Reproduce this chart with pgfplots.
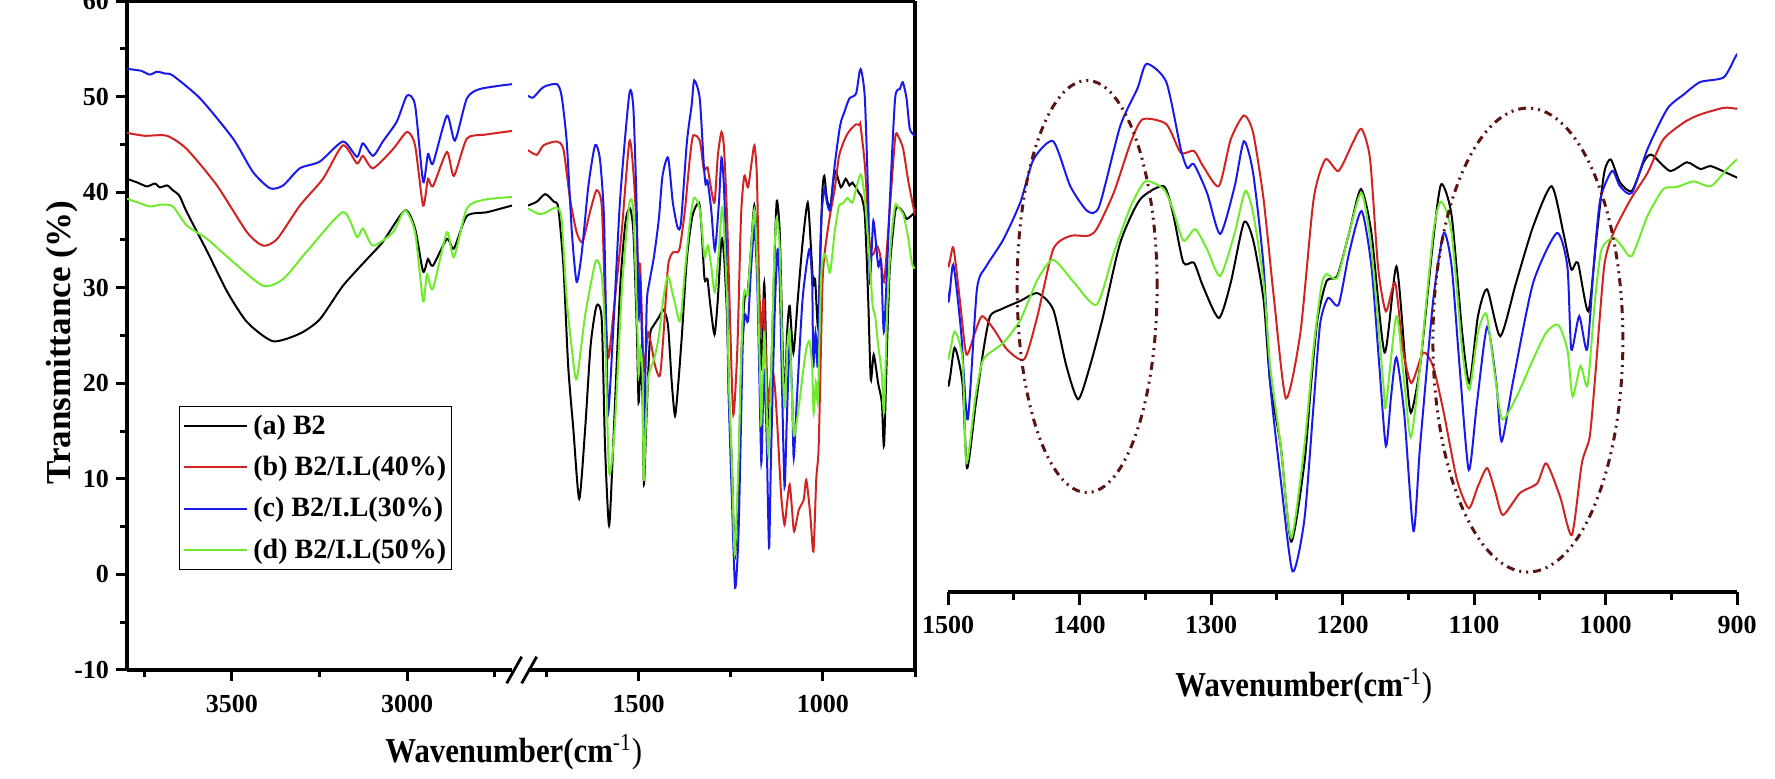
\documentclass[border=0pt]{standalone}
\usepackage{fontspec}
\setmainfont{Liberation Serif}
\usepackage{graphicx}
\usepackage{pgfplots}
\usepackage{pgfplotstable}
\pgfplotsset{compat=1.18}

\definecolor{cBlack}{RGB}{0,0,0}
\definecolor{cRed}{RGB}{210,35,35}
\definecolor{cBlue}{RGB}{25,25,235}
\definecolor{cGreen}{RGB}{110,235,45}
\definecolor{cMark}{RGB}{90,20,20}

% ---------- 3800-2700 cm^-1 ----------
\pgfplotstableread{
wn T
3800 41.4
3770 41.0
3743 40.6
3720 40.9
3706 40.5
3685 40.7
3669 40.2
3650 39.6
3629 37.9
3571 33.8
3514 29.6
3457 26.4
3383 24.4
3306 25.2
3249 26.7
3183 30.2
3114 33.0
3069 34.8
3006 38.1
2977 36.2
2954 31.7
2940 33.0
2926 32.3
2886 35.1
2866 34.1
2829 37.5
2771 37.9
2700 38.6
}\hiBlack
\pgfplotstableread{
wn T
3800 46.2
3750 45.9
3686 45.9
3629 44.5
3543 40.7
3457 35.8
3411 34.4
3371 35.1
3306 38.6
3240 41.4
3183 44.9
3143 43.0
3126 43.8
3097 42.5
3040 44.5
3000 46.3
2977 44.9
2954 38.6
2940 41.4
2926 40.6
2886 44.2
2866 41.7
2829 45.6
2780 46.0
2700 46.4
}\hiRed
\pgfplotstableread{
wn T
3800 52.9
3760 52.7
3735 52.3
3714 52.6
3690 52.4
3669 52.2
3591 49.8
3497 45.6
3440 42.1
3391 40.4
3354 40.7
3306 42.5
3249 43.2
3183 45.3
3143 43.7
3126 45.1
3097 43.8
3069 45.3
3029 47.4
3000 50.1
2977 49.1
2954 41.1
2940 44.0
2926 43.0
2886 48.0
2863 45.4
2829 49.8
2791 50.8
2700 51.3
}\hiBlue
\pgfplotstableread{
wn T
3800 39.3
3760 38.8
3734 38.5
3700 38.7
3669 38.5
3629 36.5
3571 35.1
3497 32.7
3411 30.2
3354 30.9
3286 33.8
3183 37.9
3143 35.3
3126 36.2
3097 34.4
3040 35.8
3006 38.1
2977 35.8
2954 28.6
2943 31.4
2926 29.9
2886 35.8
2866 33.2
2829 38.3
2780 39.2
2700 39.5
}\hiGreen

% ---------- 1800-750 cm^-1 ----------
\pgfplotstableread{
wn T
1800 38.6
1776 39.0
1753 39.8
1730 39.0
1718 38.4
1704 32.3
1691 21.8
1677 15.2
1661 7.9
1645 15.2
1630 24.0
1614 28.1
1600 26.7
1591 13.4
1580 5.1
1569 13.4
1550 30.0
1535 37.0
1523 38.3
1514 35.8
1505 26.0
1500 18.0
1495 22.0
1489 18.3
1485.5 9.4
1479 16.0
1473 21.8
1468 25.3
1460 26.0
1445 26.9
1432 27.7
1420 26.0
1410 20.1
1401 16.6
1392 20.1
1382 25.3
1369 33.0
1354 37.5
1336 38.9
1329 36.1
1321 30.9
1313 30.9
1306 28.4
1294 25.1
1285 28.8
1275 35.1
1268 33.3
1260 27.0
1255 18.3
1247 11.7
1239 1.7
1229 9.9
1224 18.0
1219 25.0
1212 29.0
1204 29.5
1195 34.0
1186 38.6
1178 34.0
1168 21.5
1159 30.5
1152 20.1
1148 15.2
1141 20.1
1131 33.3
1125 39.1
1117 35.8
1109 23.6
1103.5 18.3
1097 25.3
1090 28.1
1080 23.2
1068 28.8
1055 34.7
1041 38.9
1032 34.0
1026 30.2
1021 30.9
1013 25.8
1006.5 34.0
1001 40.3
996 41.7
989 39.3
980 38.4
971 41.4
965 42.2
951 40.5
938 41.4
928 40.7
920 41.0
908 40.3
900 39.8
895 39.5
886 37.5
877 28.8
870 20.4
862 23.0
850 20.0
840 18.0
834 13.5
825 25.0
818 32.3
804 37.9
795 38.4
782 37.9
772 37.2
750 37.9
}\fpBlack
\pgfplotstableread{
wn T
1800 44.4
1776 43.9
1758 44.9
1722 45.3
1704 44.5
1686 39.3
1668 35.8
1652 34.8
1632 37.9
1614 40.2
1600 38.6
1591 28.8
1582 22.7
1569 27.0
1546 35.8
1525 45.3
1514 42.1
1505 36.0
1500 30.5
1496 32.5
1491 27.0
1486 21.3
1479.5 23.6
1474 25.3
1465 23.9
1455 21.8
1442 20.8
1432 25.3
1420 32.3
1407 33.7
1394 33.7
1387 34.4
1374 38.2
1361 43.5
1352 45.9
1334 45.4
1323 42.4
1313 42.6
1306 41.0
1294 38.9
1285 43.8
1275 46.3
1268 44.5
1260 37.5
1252 27.0
1243 16.7
1232 23.6
1222 37.5
1213 41.7
1203 40.5
1192 43.5
1185.5 44.9
1179 41.7
1173 30.5
1167 25.8
1160 28.8
1154 21.8
1147.6 18.3
1138.6 21.5
1131 20.0
1123 15.2
1113 8.2
1104 5.2
1097 7.5
1090 9.4
1084 7.0
1078 4.5
1065 6.8
1052 7.8
1045 9.9
1034.5 6.4
1025.6 2.4
1018 9.9
1012 12.7
1008 18.7
1001 30.5
994 34.0
981 37.5
968 40.3
956 43.8
940 45.6
928 46.4
910 47.1
900 47.0
898 47.0
886 42.8
872 34.1
863 33.5
854 34.4
845 33.5
834 30.6
823 35.8
804 45.6
795 45.8
782 44.5
768 41.1
750 37.6
}\fpRed
\pgfplotstableread{
wn T
1800 50.1
1786 49.9
1758 51.0
1722 51.3
1709 50.1
1695 45.3
1681 35.8
1668 30.6
1654 33.7
1636 40.7
1618 44.9
1605 43.5
1594 37.5
1587 24.0
1582 17.0
1569 25.4
1550 39.3
1525 50.3
1514 48.7
1505 38.0
1500 26.9
1496 30.7
1490 23.6
1485 14.5
1478 28.1
1471 30.5
1458 33.3
1445 37.2
1435 41.7
1420 43.6
1407 38.9
1394 36.3
1385 36.8
1369 45.2
1356 49.1
1349 51.7
1334 49.8
1323 42.8
1318 40.8
1313 41.2
1303 38.2
1293 33.9
1282 38.9
1275 43.6
1268 40.3
1260 30.5
1255 18.3
1247 8.2
1238 -1.4
1229 4.0
1222 16.0
1217 24.5
1211 27.2
1203 26.5
1195 31.9
1185.5 36.3
1178 30.5
1172 20.1
1167 11.7
1163 17.0
1159 21.0
1153 15.0
1146 2.8
1141 11.7
1131 27.0
1123 34.0
1117 30.5
1111 20.1
1104 9.2
1098 15.9
1090 24.2
1083 18.3
1079 12.2
1070 18.7
1055 28.8
1037 34.0
1029 30.5
1026 21.8
1020 25.3
1014 21.8
1009 30.5
1004 37.5
995 40.5
989 38.9
980 38.2
968 42.8
953 47.0
940.5 48.5
928 49.8
910 50.3
900 52.7
895 52.6
886 49.8
877 39.3
872 30.6
863 37.0
850 32.3
842 32.8
834 25.4
818 39.3
804 49.8
791 50.8
783 51.5
773 49.8
764 46.6
750 45.9
}\fpBlue
\pgfplotstableread{
wn T
1800 38.3
1770 37.7
1750 37.9
1722 38.4
1709 37.2
1695 28.8
1681 23.6
1668 20.4
1645 27.1
1616 32.8
1600 31.3
1591 25.3
1580 10.7
1565 15.2
1545 30.0
1525 38.8
1514 37.9
1503 25.3
1500 20.8
1495 23.7
1489 20.8
1486 9.9
1479 17.0
1473 20.8
1458 22.5
1445 24.9
1432 29.1
1420 31.2
1404 28.8
1387 26.5
1374 31.9
1361 36.8
1350 39.4
1336 38.6
1329 36.5
1321 33.2
1312 34.4
1303 32.3
1293 29.5
1282 34.0
1274 38.4
1268 36.1
1260 28.8
1255 20.1
1247 11.7
1239 2.1
1229 11.7
1222 22.0
1216 28.5
1212 29.7
1204 29.3
1195 34.0
1185.5 38.2
1178 32.3
1169 18.3
1167 15.9
1159 25.3
1153 18.3
1148 12.6
1141 20.1
1131 34.0
1125 37.3
1117 34.0
1109 21.8
1103.5 17.6
1097 23.6
1090.5 25.5
1084 19.0
1078.5 14.5
1067.5 16.9
1055 20.8
1045 23.6
1036 24.4
1029 21.8
1025 16.9
1019 20.1
1013.6 18.1
1008 27.0
1003 32.3
994 33.5
987.5 32.6
980 31.6
968 35.8
956 38.6
946 38.8
933 39.4
920 38.9
907.5 40.7
900 41.7
895 41.7
886 39.3
872 32.3
865 28.1
858 27.0
850 24.0
840 21.0
834 17.0
825 28.0
815 35.0
804 38.6
795 38.4
782 37.7
775 36.5
768 35.1
758 32.5
750 32.0
}\fpGreen

\pgfplotsset{
  ftir/.style={
    scale only axis,
    x dir=reverse,
    axis line style={line width=1.6pt},
    tick style={line width=1.5pt, black},
    major tick length=5.5pt,
    minor tick length=3.5pt,
    tick align=outside,
    ticklabel style={font=\fontsize{13}{13}\selectfont\bfseries},
    /pgf/number format/assume math mode=true,
    /pgf/number format/set thousands separator={},
    every axis plot/.append style={line width=1pt, smooth, tension=0.4},
  },
}

\begin{document}
\begin{tikzpicture}
\useasboundingbox (0pt,0pt) rectangle (887.5pt,389.5pt);

% left part of the broken axis: 3800-2700
\begin{axis}[ftir,
  at={(63.5pt,54.5pt)}, anchor=south west,
  width=192.5pt, height=334.5pt,
  xmin=2700, xmax=3800, ymin=-10, ymax=60,
  axis x line=box, axis y line*=left,
  xtick pos=left, ytick pos=left,
  xtick={3000,3500}, minor xtick={2750,3250,3750},
  ytick={-10,0,...,60}, minor ytick={-5,5,...,55},
  xticklabel style={yshift=-3.5pt},
  legend style={at={(axis description cs:0.1351,0.3946)}, anchor=north west,
    draw=black, line width=0.6pt, inner xsep=1.5pt, inner ysep=3pt,
    font=\fontsize{14}{14}\selectfont\bfseries,
    nodes={inner sep=1pt}, row sep=7.5pt,
    /tikz/every odd column/.append style={column sep=2pt},
    cells={anchor=west}},
  legend image code/.code={\draw[#1, line width=0.9pt] (0pt,0pt) -- (31.5pt,0pt);},
]
\addplot[cBlack] table[x=wn,y=T] {\hiBlack};
\addlegendentry{(a) B2}
\addplot[cRed] table[x=wn,y=T] {\hiRed};
\addlegendentry{(b) B2/I.L(40\%)}
\addplot[cBlue] table[x=wn,y=T] {\hiBlue};
\addlegendentry{(c) B2/I.L(30\%)}
\addplot[cGreen] table[x=wn,y=T] {\hiGreen};
\addlegendentry{(d) B2/I.L(50\%)}
\end{axis}

% right part of the broken axis: 1800-750
\begin{axis}[ftir,
  at={(264pt,54.5pt)}, anchor=south west,
  width=193.5pt, height=334.5pt,
  xmin=750, xmax=1800, ymin=-10, ymax=60,
  axis x line=box, axis y line*=right,
  xtick pos=left, ytick=\empty,
  xtick={1000,1500}, minor xtick={750,1250,1750},
  xticklabel style={yshift=-3.5pt},
]
\addplot[cBlack] table[x=wn,y=T] {\fpBlack};
\addplot[cRed] table[x=wn,y=T] {\fpRed};
\addplot[cBlue] table[x=wn,y=T] {\fpBlue};
\addplot[cGreen] table[x=wn,y=T] {\fpGreen};
\end{axis}

% expanded fingerprint region: 1500-900
\begin{axis}[ftir,
  at={(474pt,93.5pt)}, anchor=south west,
  width=394.5pt, height=295.5pt,
  xmin=900, xmax=1500, ymin=-3.56, ymax=58.28,
  axis x line*=bottom, axis y line=none,
  xtick pos=left, ytick=\empty,
  xtick={900,1000,...,1500}, minor xtick={950,1050,...,1450},
  major tick length=6.5pt, minor tick length=4pt,
  xticklabel style={yshift=-2.2pt},
]
\addplot[cBlack] table[x=wn,y=T] {\fpBlack};
\addplot[cRed] table[x=wn,y=T] {\fpRed};
\addplot[cBlue] table[x=wn,y=T] {\fpBlue};
\addplot[cGreen] table[x=wn,y=T] {\fpGreen};
\draw[cMark, line width=1.5pt,
  dash pattern=on 4pt off 2.5pt on 1pt off 2.5pt on 1pt off 2.5pt]
  (axis cs:1394.2,28.4) ellipse [x radius=35pt, y radius=103pt];
\draw[cMark, line width=1.5pt,
  dash pattern=on 4pt off 2.5pt on 1pt off 2.5pt on 1pt off 2.5pt]
  (axis cs:1059,22.8) ellipse [x radius=47.5pt, y radius=116pt];
\end{axis}

% axis break marks and the joined top frame
\draw[line width=1.6pt] (256pt,389pt) -- (264pt,389pt);
\draw[line width=1.4pt] (253.35pt,47.85pt) -- (260.85pt,61.15pt);
\draw[line width=1.4pt] (260.85pt,47.85pt) -- (268.35pt,61.15pt);

% axis titles
\node[rotate=90, anchor=base, font=\fontsize{17.5}{18}\selectfont\bfseries]
  at (35pt,218.25pt) {Transmittance (\%)};
\node[anchor=base west, font=\fontsize{17.5}{18}\selectfont, inner sep=0pt]
  at (192.5pt,8pt) {\scalebox{0.88}[1]{\textbf{Wavenumber(cm}\textsuperscript{-1})}};
\node[anchor=base west, font=\fontsize{17.5}{18}\selectfont, inner sep=0pt]
  at (587.5pt,41pt) {\scalebox{0.88}[1]{\textbf{Wavenumber(cm}\textsuperscript{-1})}};
\end{tikzpicture}
\end{document}
